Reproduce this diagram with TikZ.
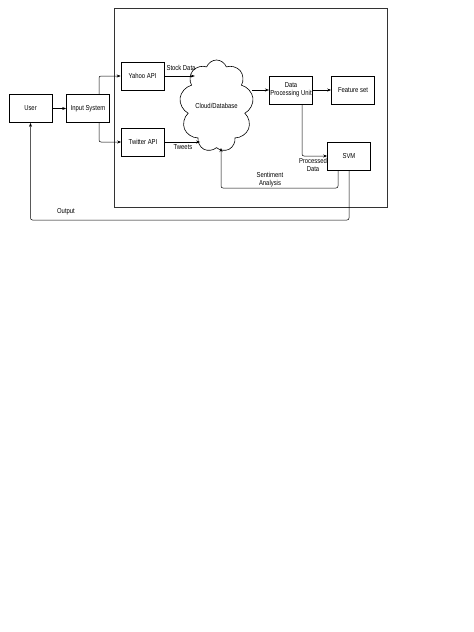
\documentclass[tikz,border=0pt]{standalone}
\usepackage{fontspec}
\setmainfont[FakeStretch=0.82]{Liberation Sans}
\usetikzlibrary{shapes.symbols,arrows.meta}
\begin{document}
\begin{tikzpicture}[x=1pt,y=-1pt,font=\fontsize{7.2}{7.8}\selectfont,
  blockbox/.style={shape=rectangle,draw,line width=0.7pt,minimum width=43pt,minimum height=28pt,inner sep=1pt,align=center},
  flow/.style={->,>={Stealth[length=4pt,width=3pt]},line width=0.5pt,rounded corners=2pt},
  tag/.style={inner sep=0pt,align=center}]
\useasboundingbox (0,0) rectangle (474,632);
\draw[line width=0.7pt,black!80] (114,8) rectangle (387,207);
\node(user) [blockbox] at (30.5,108.5) {User};
\node(input) [blockbox] at (88,108.5) {Input System};
\node(yahoo) [blockbox] at (142.5,76) {Yahoo API};
\node(twitter) [blockbox] at (143,142) {Twitter API};
\node(cloud) [shape=cloud,draw,line width=0.6pt,cloud puffs=9,cloud puff arc=140,cloud ignores aspect,minimum width=74pt,minimum height=92pt,inner sep=0pt,shape border rotate=10] at (216.5,106) {Cloud/Database};
\node(dpu) [blockbox] at (291,90) {Data\\Processing Unit};
\node(feat) [blockbox] at (353,90) {Feature set};
\node(svm) [blockbox] at (349,156) {SVM};
\coordinate(sa) at (221,188);
\coordinate(out) at (30.5,220);
\draw [flow] (user) -- (input);
\draw [flow] ([xshift=11pt]input.north) |- (yahoo.west);
\draw [flow] ([xshift=11pt]input.south) |- (twitter.west);
\draw [flow] (yahoo.east) -- (yahoo.east -| cloud.120);
\draw [flow] (twitter.east) -- (twitter.east -| cloud.248);
\draw [flow] (dpu.west -| cloud.east) -- (dpu.west);
\draw [flow] (dpu) -- (feat);
\draw [flow] ([xshift=11pt]dpu.south) |- (svm.west);
\draw [flow] ([xshift=-11pt]svm.south) |- (sa) -- (sa |- cloud.south);
\draw [flow] (svm.south) |- (out) -- (user.south);
\node(stock) [tag] at (181,68) {Stock Data};
\node(tweets) [tag] at (183,147) {Tweets};
\node(proc) [tag] at (313,165) {Processed\\Data};
\node(senti) [tag] at (270,180) {Sentiment\\Analysis};
\node(output) [tag] at (66,212) {Output};
\end{tikzpicture}
\end{document}
